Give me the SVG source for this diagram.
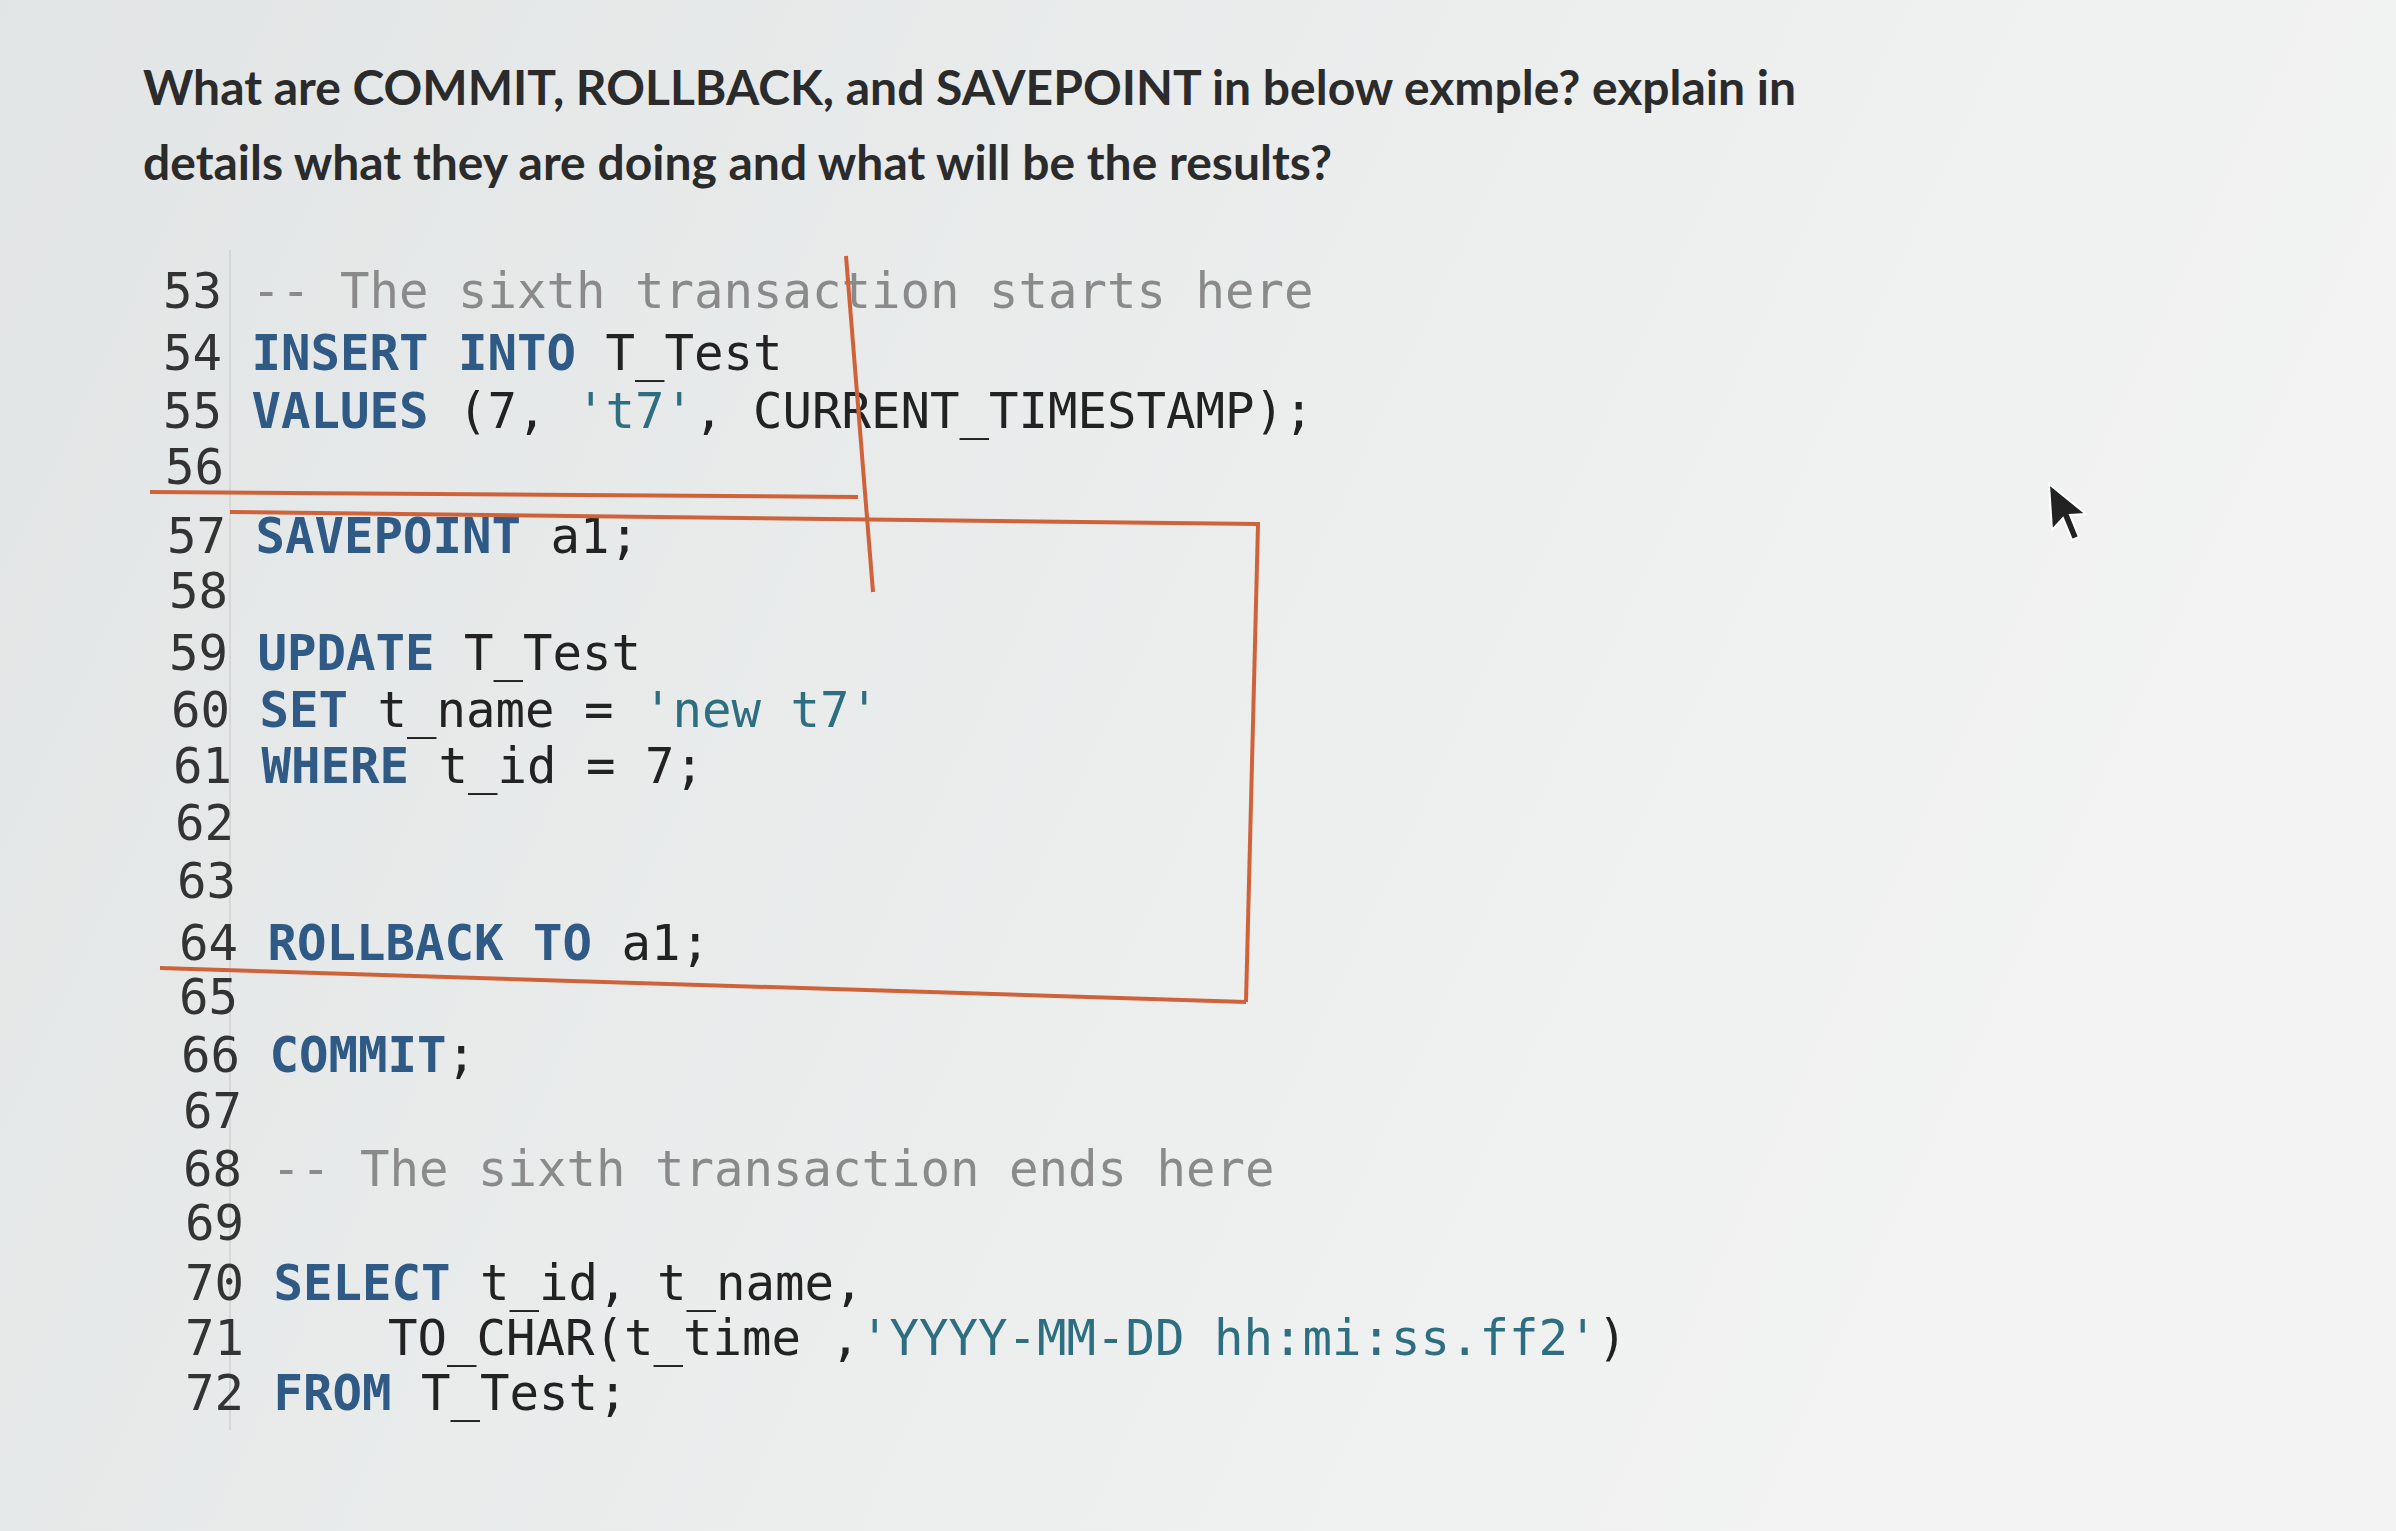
<svg xmlns="http://www.w3.org/2000/svg" width="2396" height="1531" viewBox="0 0 2396 1531">
<defs>
<linearGradient id="bg" x1="0" y1="0" x2="1" y2="0.3">
<stop offset="0" stop-color="#e2e5e5"/><stop offset="0.6" stop-color="#eceeee"/><stop offset="1" stop-color="#f3f3f3"/>
</linearGradient>
<style>
.t{font-family:"Lato","Liberation Sans",sans-serif;font-size:48px;font-weight:bold;fill:#2b2b2b}
.c{font-family:"DejaVu Sans Mono","Liberation Mono",monospace;font-size:49px;white-space:pre}
.n{fill:#333}
.k{fill:#2f5a85;font-weight:bold}
.p{fill:#222}
.s{fill:#2d6e80}
.m{fill:#8a8a8a}
.o{stroke:#d0623a;stroke-width:4;fill:none}
</style>
</defs>
<rect width="2396" height="1531" fill="url(#bg)"/>
<text class="t" x="143" y="105">What are COMMIT, ROLLBACK, and SAVEPOINT in below exmple? explain in</text>
<text class="t" x="143" y="180">details what they are doing and what will be the results?</text>
<line x1="230" y1="250" x2="230" y2="1430" stroke="#d6d8d8" stroke-width="2"/>
<g class="c" xml:space="preserve">
<text x="163" y="308"><tspan class="n">53 </tspan><tspan class="m">-- The sixth transaction starts here</tspan></text>
<text x="163" y="370"><tspan class="n">54 </tspan><tspan class="k">INSERT INTO </tspan><tspan class="p">T_Test</tspan></text>
<text x="163" y="428"><tspan class="n">55 </tspan><tspan class="k">VALUES </tspan><tspan class="p">(7, </tspan><tspan class="s">'t7'</tspan><tspan class="p">, CURRENT_TIMESTAMP);</tspan></text>
<text x="165" y="484"><tspan class="n">56</tspan></text>
<text x="167" y="553"><tspan class="n">57 </tspan><tspan class="k">SAVEPOINT </tspan><tspan class="p">a1;</tspan></text>
<text x="169" y="608"><tspan class="n">58</tspan></text>
<text x="169" y="670"><tspan class="n">59 </tspan><tspan class="k">UPDATE </tspan><tspan class="p">T_Test</tspan></text>
<text x="171" y="727"><tspan class="n">60 </tspan><tspan class="k">SET </tspan><tspan class="p">t_name = </tspan><tspan class="s">'new t7'</tspan></text>
<text x="173" y="783"><tspan class="n">61 </tspan><tspan class="k">WHERE </tspan><tspan class="p">t_id = 7;</tspan></text>
<text x="175" y="840"><tspan class="n">62</tspan></text>
<text x="177" y="898"><tspan class="n">63</tspan></text>
<text x="179" y="960"><tspan class="n">64 </tspan><tspan class="k">ROLLBACK TO </tspan><tspan class="p">a1;</tspan></text>
<text x="179" y="1014"><tspan class="n">65</tspan></text>
<text x="181" y="1072"><tspan class="n">66 </tspan><tspan class="k">COMMIT</tspan><tspan class="p">;</tspan></text>
<text x="183" y="1128"><tspan class="n">67</tspan></text>
<text x="183" y="1186"><tspan class="n">68 </tspan><tspan class="m">-- The sixth transaction ends here</tspan></text>
<text x="185" y="1240"><tspan class="n">69</tspan></text>
<text x="185" y="1300"><tspan class="n">70 </tspan><tspan class="k">SELECT </tspan><tspan class="p">t_id, t_name,</tspan></text>
<text x="185" y="1355"><tspan class="n">71</tspan></text>
<text x="388" y="1355"><tspan class="p">TO_CHAR(t_time ,</tspan><tspan class="s">'YYYY-MM-DD hh:mi:ss.ff2'</tspan><tspan class="p">)</tspan></text>
<text x="185" y="1410"><tspan class="n">72 </tspan><tspan class="k">FROM </tspan><tspan class="p">T_Test;</tspan></text>
</g>
<path class="o" d="M150 492 L858 497"/>
<path class="o" d="M846 256 L873 592"/>
<path class="o" d="M230 512 L1258 524 L1246 1002"/>
<path class="o" d="M160 968 L1246 1002"/>
<path d="M2049 484 L2052 530 L2063 518 L2072 540 L2079 537 L2070 515 L2086 514 Z" fill="#222" stroke="#fff" stroke-width="2"/>
</svg>
